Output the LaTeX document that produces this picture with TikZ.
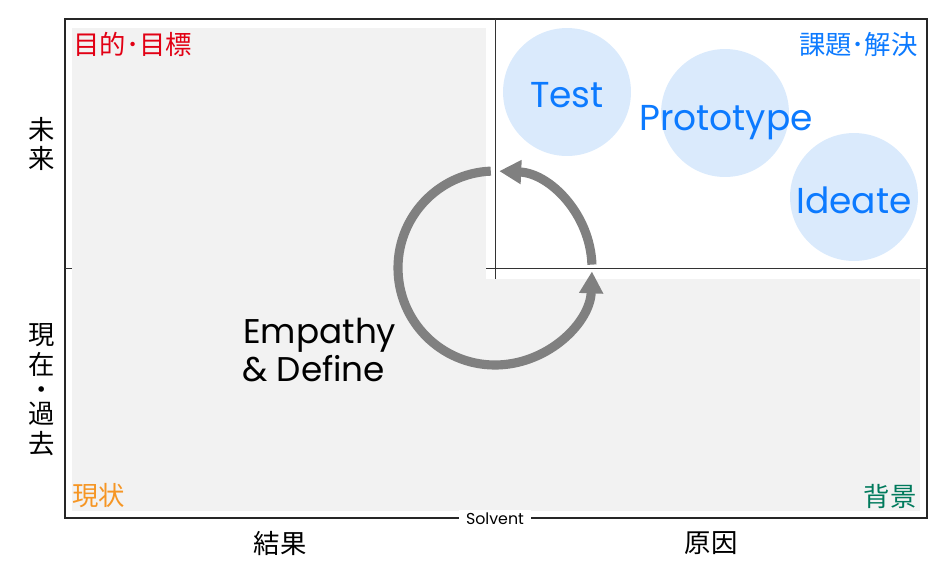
\documentclass[tikz,border=0pt]{standalone}
\usepackage{fontspec}
\setmainfont{Poppins}
\newfontfamily\jpfont{Noto Sans CJK JP}
\usetikzlibrary{arrows.meta}
\definecolor{areagray}{RGB}{242,242,242}
\definecolor{stepblue}{RGB}{12,122,255}
\definecolor{stepfill}{RGB}{218,234,252}
\definecolor{goalred}{RGB}{226,0,20}
\definecolor{noworange}{RGB}{246,150,36}
\definecolor{bggreen}{RGB}{0,122,92}
\definecolor{cyclegray}{RGB}{128,128,128}
\begin{document}
\begin{tikzpicture}[x=0.02cm, y=-0.02cm]
\useasboundingbox (0,0) rectangle (946,583);
\tikzset{every node/.style={inner sep=0pt}}
\tikzset{jplabel/.style={font=\jpfont\fontsize{15pt}{17pt}\selectfont}}
\tikzset{steplabel/.style={anchor=base, text=stepblue, font=\fontsize{20.5pt}{24pt}\selectfont}}
\tikzset{stepcircle/.style={circle, fill=stepfill, minimum size=2.56cm}}

% areas
\fill[areagray] (72,28) rectangle (486,279);
\fill[areagray] (72,279) rectangle (920,511);

\coordinate (vtop) at (495,19);
\coordinate (vbot) at (495,279);
\coordinate (hleft) at (486,268);
\coordinate (hright) at (927,268);
\coordinate (tickl) at (65,268);
\coordinate (tickr) at (72,268);
\coordinate (c) at (495,268);

\draw[line width=0.7pt, black!85] (65,19) rectangle (927,518);
\tikzset{mystyle/.style={line width=0.5pt, black!80}}
\path (vtop) edge [mystyle] (vbot);
\path (hleft) edge [mystyle] (hright);
\path (tickl) edge [mystyle] (tickr);

% steps
\node[stepcircle] (testc) at (567,92) {};
\node[stepcircle] (protoc) at (725,113) {};
\node[stepcircle] (ideatec) at (854,197) {};
\node[steplabel] (test) at (567,107) {Test};
\node[steplabel] (proto) at (726,130) {Prototype};
\node[steplabel] (ideate) at (854,213) {Ideate};
\tikzset{steplabel/.append style={anchor=base west, text=black, font=\fontsize{19.5pt}{24pt}\selectfont}}
\node[steplabel] (empathy) at (243,343) {Empathy};
\node[steplabel] (define) at (242,381) {\& Define};

% cycle
\tikzset{mystyle/.style={line width=5.2pt, cyclegray, -{Triangle[width=13pt,length=12.5pt]}}}
\draw[mystyle] ([shift={(c)}]267.5:97) arc (267.5:2:97);
\draw[mystyle] ([shift={(c)}]358:97) arc (358:272.5:97);

% labels
\node[jplabel, text=goalred, anchor=west] (goal) at (73,44.5) {目的･目標};
\node[jplabel, text=stepblue, anchor=east] (issue) at (918,44.5) {課題･解決};
\node[jplabel, text=noworange, anchor=west] (now) at (72,496) {現状};
\node[jplabel, text=bggreen, anchor=east] (bg) at (917,496) {背景};
\node[jplabel, align=center] (future) at (42,144) {未\\来};
\node[jplabel, align=center] (present) at (42,390) {現\\在\\[-3pt]・\\[-3pt]過\\去};
\node[jplabel] (result) at (280,543) {結果};
\node[jplabel] (cause) at (711,543) {原因};
\node[fill=white, inner xsep=4.3pt, inner ysep=2pt, font=\fontsize{9pt}{10pt}\selectfont] (solvent) at (495,519) {Solvent};
\end{tikzpicture}
\end{document}
